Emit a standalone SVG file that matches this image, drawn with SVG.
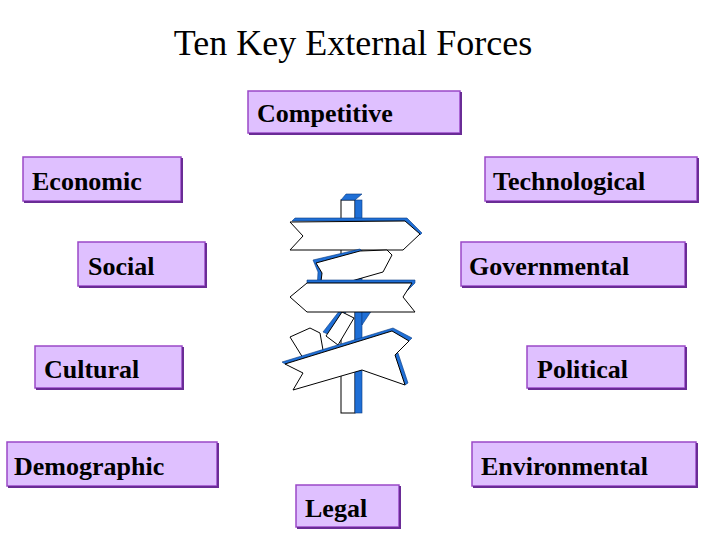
<svg xmlns="http://www.w3.org/2000/svg" width="728" height="546" viewBox="0 0 728 546">
<style>
.b{fill:#dfc0ff;stroke:#9a48c8;stroke-width:1.5}
.s{fill:none;stroke:#6a2c96;stroke-width:2}
.t{font-family:"Liberation Serif",serif;font-weight:bold;font-size:26px;fill:#000}
.w{fill:#fff;stroke:#000;stroke-width:1}
.bl{fill:#1f6fd6;stroke:#0a3a80;stroke-width:0.6}
</style>
<rect width="728" height="546" fill="#fff"/>
<text x="353" y="55" text-anchor="middle" font-family="Liberation Serif,serif" font-size="36">Ten Key External Forces</text>
<g id="signpost">
<rect class="w" x="341" y="200" width="14" height="213"/>
<rect class="bl" x="355" y="200" width="7" height="213"/>
<polygon class="bl" points="341,200 346,194 362,194 355,200"/>
<polygon class="w" points="290,337 310,328 320,333 323,350 303,358"/>
<polygon class="bl" points="323,332 340,310 346,312 330,335"/>
<polygon class="w" points="326,336 342,312 354,318 338,345"/>
<polygon class="bl" points="362,310 372,310 362,325"/>
<polygon class="bl" points="295,218 407,218 422,233 420,235 405,221 292,221"/>
<polygon class="w" points="290,222 303,236 290,250 403,250 420,234 405,221"/>
<polygon class="bl" points="313,260 360,249 362,251 316,263 322,273 320,290 317,290 318,272"/>
<polygon class="w" points="316,263 360,251 387,250 392,255 383,272 320,290 322,273"/>
<polygon class="bl" points="307,280 415,280 415,283 403,295 400,295 412,283 307,283"/>
<polygon class="w" points="290,297 307,283 412,283 403,297 415,312 307,312"/>
<polygon class="bl" points="282,362 393,328 412,338 409,341 392,331 285,364"/>
<polygon class="bl" points="398,353 408,383 405,385 395,356"/>
<polygon class="w" points="285,364 392,331 409,341 395,355 405,385 362,370 293,390 303,373"/>
</g>
<g id="competitive"><rect class="b" x="248" y="91" width="212" height="42"/><path class="s" d="M461,92V134H249"/><text class="t" x="257" y="122">Competitive</text></g>
<g id="economic"><rect class="b" x="23" y="157" width="158" height="44"/><path class="s" d="M182,158V202H24"/><text class="t" x="32" y="190">Economic</text></g>
<g id="technological"><rect class="b" x="485" y="157" width="212" height="44"/><path class="s" d="M698,158V202H486"/><text class="t" x="493" y="190">Technological</text></g>
<g id="social"><rect class="b" x="78" y="242" width="127" height="44"/><path class="s" d="M206,243V287H79"/><text class="t" x="88" y="275">Social</text></g>
<g id="governmental"><rect class="b" x="461" y="242" width="224" height="44"/><path class="s" d="M686,243V287H462"/><text class="t" x="469" y="275">Governmental</text></g>
<g id="cultural"><rect class="b" x="35" y="346" width="147" height="42"/><path class="s" d="M183,347V389H36"/><text class="t" x="44" y="378">Cultural</text></g>
<g id="political"><rect class="b" x="527" y="346" width="158" height="42"/><path class="s" d="M686,347V389H528"/><text class="t" x="537" y="378">Political</text></g>
<g id="demographic"><rect class="b" x="7" y="442" width="210" height="44"/><path class="s" d="M218,443V487H8"/><text class="t" x="14" y="475">Demographic</text></g>
<g id="environmental"><rect class="b" x="472" y="442" width="224" height="44"/><path class="s" d="M697,443V487H473"/><text class="t" x="481" y="475">Environmental</text></g>
<g id="legal"><rect class="b" x="296" y="485" width="103" height="42"/><path class="s" d="M400,486V528H297"/><text class="t" x="305" y="517">Legal</text></g>
<g id="connectors"/>
</svg>
